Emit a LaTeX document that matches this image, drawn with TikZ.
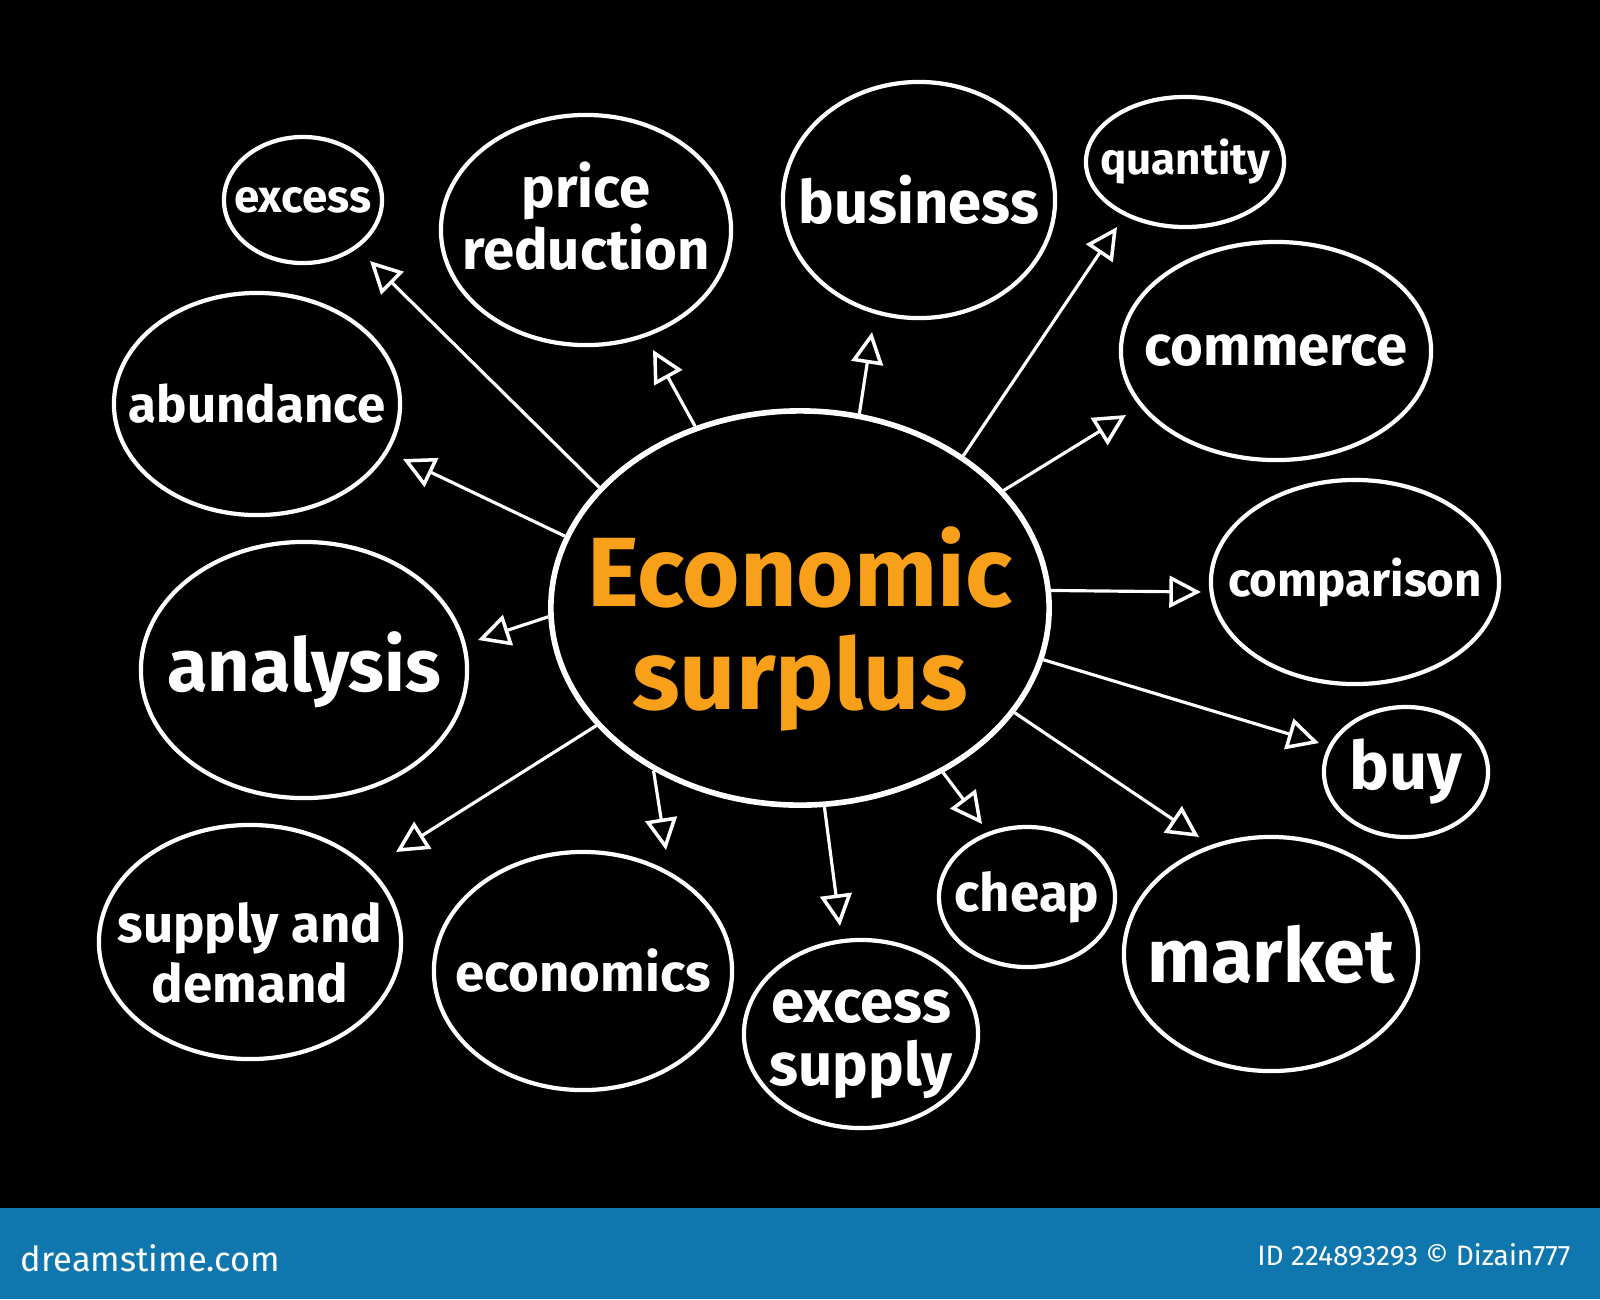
\documentclass[tikz,border=0pt]{standalone}
\usepackage{fontspec}
\setmainfont{Fira Sans}
\usetikzlibrary{shapes.geometric,arrows.meta,positioning}
\definecolor{barblue}{RGB}{16,119,174}
\definecolor{ecoorange}{RGB}{249,160,27}

\begin{document}
\begin{tikzpicture}[x=0.01cm,y=-0.01cm,
	bubble/.style={ellipse, draw=white, line width=1.2pt, inner sep=0pt},
	sz/.style={font=\bfseries\fontsize{#1}{#1}\selectfont},
	lbl/.style={text=white, align=center},
	arr/.style={white, line width=0.9pt, -{Triangle[open, length=9pt, width=9pt, line width=1pt]}}
]
\fill[black] (0,0) rectangle (1600,1208);
\fill[barblue] (0,1208) rectangle (1600,1299);
\useasboundingbox (0,0) rectangle (1600,1299);

% centre
\node[bubble, line width=1.6pt, minimum width=4.98cm, minimum height=3.94cm,
	label={[text=ecoorange, align=center, font=\bfseries\fontsize{28}{29.5}\selectfont, yshift=-6pt]center:Economic\\surplus}] (eco) at (800,608) {};

% branches
\node[bubble, minimum width=1.58cm, minimum height=1.26cm, label={[lbl,sz=13]center:excess}] (exc) at (303,200) {};
\node[bubble, minimum width=2.90cm, minimum height=2.30cm, label={[lbl,font=\bfseries\fontsize{16}{15}\selectfont,yshift=4pt]center:price\\reduction}] (prc) at (586,230) {};
\node[bubble, minimum width=2.72cm, minimum height=2.36cm, label={[lbl,sz=17]center:business}] (bus) at (919,200) {};
\node[bubble, minimum width=1.98cm, minimum height=1.30cm, label={[lbl,sz=12.5]center:quantity}] (qty) at (1185,162) {};
\node[bubble, minimum width=3.10cm, minimum height=2.18cm, label={[lbl,sz=16]center:commerce}] (com) at (1276,351) {};
\node[bubble, minimum width=2.86cm, minimum height=2.22cm, label={[lbl,sz=14.5]center:abundance}] (abu) at (257,404) {};
\node[bubble, minimum width=2.88cm, minimum height=2.04cm, label={[lbl,sz=13.5]center:comparison}] (cmp) at (1355,582) {};
\node[bubble, minimum width=3.26cm, minimum height=2.56cm, label={[lbl,sz=21]center:analysis}] (ana) at (304,670) {};
\node[bubble, minimum width=1.64cm, minimum height=1.30cm, label={[lbl,sz=19]center:buy}] (buy) at (1406,772) {};
\node[bubble, minimum width=3.02cm, minimum height=2.34cm, label={[lbl,font=\bfseries\fontsize{15}{17}\selectfont,yshift=-3pt]center:supply and\\demand}] (sup) at (250,942) {};
\node[bubble, minimum width=2.98cm, minimum height=2.38cm, label={[lbl,sz=15]center:economics}] (ecn) at (583,971) {};
\node[bubble, minimum width=2.34cm, minimum height=1.88cm, label={[lbl,font=\bfseries\fontsize{17}{18}\selectfont,yshift=-3pt]center:excess\\supply}] (exs) at (861,1034) {};
\node[bubble, minimum width=1.76cm, minimum height=1.40cm, label={[lbl,sz=15]center:cheap}] (chp) at (1027,897) {};
\node[bubble, minimum width=2.94cm, minimum height=2.34cm, label={[lbl,sz=21.5]center:market}] (mkt) at (1271,954) {};

% arrow tips
\coordinate (t-exc) at (370,261);
\coordinate (t-prc) at (653,350);
\coordinate (t-bus) at (872,332);
\coordinate (t-qty) at (1117,227);
\coordinate (t-com) at (1126,415);
\coordinate (t-abu) at (403,459);
\coordinate (t-cmp) at (1201,592);
\coordinate (t-ana) at (478,640);
\coordinate (t-buy) at (1319,743);
\coordinate (t-sup) at (396,852);
\coordinate (t-ecn) at (666,850);
\coordinate (t-exs) at (840,926);
\coordinate (t-chp) at (982,824);
\coordinate (t-mkt) at (1199,837);

\path[arr]
	(eco.149)	edge	(t-exc)
	(eco.120)	edge	(t-prc)
	(eco.73)	edge	(t-bus)
	(eco.43)	edge	(t-qty)
	(eco.30)	edge	(t-com)
	(eco.163)	edge	(t-abu)
	(eco.4)		edge	(t-cmp)
	(eco.182)	edge	(t-ana)
	(eco.-12)	edge	(t-buy)
	(eco.210)	edge	(t-sup)
	(eco.228)	edge	(t-ecn)
	(eco.-83)	edge	(t-exs)
	(eco.-49)	edge	(t-chp)
	(eco.-26)	edge	(t-mkt)
;

% footer
\node[anchor=west, inner sep=0pt, text=white, font=\fontsize{9.8}{10}\selectfont] (site) at (20,1258) {dreamstime.com};
\node[anchor=east, inner sep=0pt, text=white, font=\fontsize{8}{8}\selectfont] (imgid) at (1571,1255) {ID 224893293 © Dizain777};
\end{tikzpicture}
\end{document}
